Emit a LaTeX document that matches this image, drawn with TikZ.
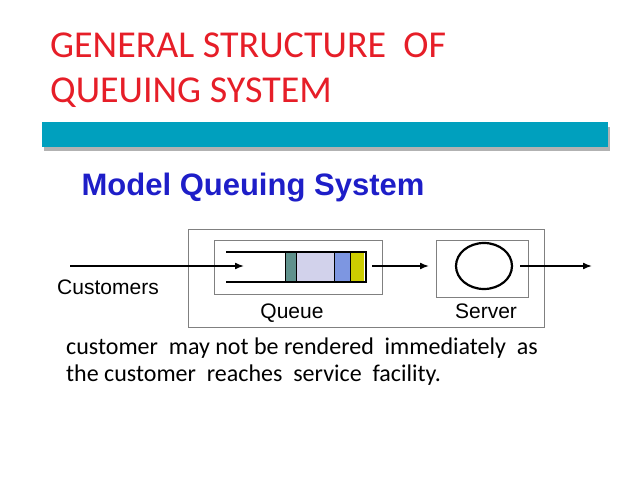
\documentclass[tikz,border=0pt]{standalone}
\usepackage{fontspec}
\setmainfont{Carlito}
\newfontfamily\arialf{Liberation Sans}
\usetikzlibrary{arrows.meta,shapes.geometric}
\definecolor{titlered}{RGB}{230,30,40}
\definecolor{barteal}{RGB}{0,160,190}
\definecolor{modelblue}{RGB}{30,30,200}
\definecolor{segteal}{RGB}{95,145,140}
\definecolor{seglav}{RGB}{210,210,235}
\definecolor{segblue}{RGB}{125,150,225}
\definecolor{segyel}{RGB}{205,205,0}
\tikzset{
  flow/.style={line width=1.6pt,-{Latex[length=9pt,width=7pt]}},
  box/.style={draw=gray,line width=0.6pt},
  lbl/.style={font=\arialf\fontsize{21}{24}\selectfont},
}
\begin{document}
\begin{tikzpicture}[x=1pt,y=-1pt]
\useasboundingbox (0,0) rectangle (638,478);
% heading and bar
\node[anchor=north west,align=left,text=titlered,font=\fontsize{38}{45}\selectfont,inner sep=0pt] (title) at (50,33) {GENERAL STRUCTURE~ OF\\QUEUING SYSTEM};
\fill[gray!60] (44,127) rectangle (610,151);
\fill[barteal] (42,122) rectangle (608,147);
\node[text=modelblue,font=\arialf\bfseries\fontsize{31}{34}\selectfont] (model) at (253,188) {Model Queuing System};
% boxes
\draw[box] (188,229) rectangle (544,327);
\draw[box] (214,240) rectangle (382,294);
\draw[box] (436,240) rectangle (528,297);
% queue tube
\fill[segteal] (285,252) rectangle (296,282);
\fill[seglav] (296,252) rectangle (334,282);
\fill[segblue] (334,252) rectangle (350,282);
\fill[segyel] (350,252) rectangle (364,282);
\draw[line width=2.2pt] (226,252) -- (366,252) -- (366,282) -- (226,282);
\draw[line width=1pt] (285,252) -- (285,282) (296,252) -- (296,282) (334,252) -- (334,282) (350,252) -- (350,282);
\node[draw,line width=2.2pt,ellipse,minimum width=56pt,minimum height=46pt,inner sep=0pt] (srv) at (484,266) {};
\coordinate (in) at (70,266);
\coordinate (qin) at (244,266);
\coordinate (qout) at (372,266);
\coordinate (sin) at (429,266);
\coordinate (sout) at (520,266);
\coordinate (out) at (592,266);
\draw[flow] (in) -- (qin);
\draw[flow] (qout) -- (sin);
\draw[flow] (sout) -- (out);
\node[lbl] (cust) at (108,287) {Customers};
\node[lbl] (queue) at (292,313) {Queue};
\node[lbl] (server) at (486,311) {Server};
\node[anchor=north west,align=left,font=\fontsize{24}{27}\selectfont,inner sep=0pt] (body) at (66,338) {customer~ may not be rendered~ immediately~ as\\the customer~ reaches~ service~ facility.};
\end{tikzpicture}
\end{document}
